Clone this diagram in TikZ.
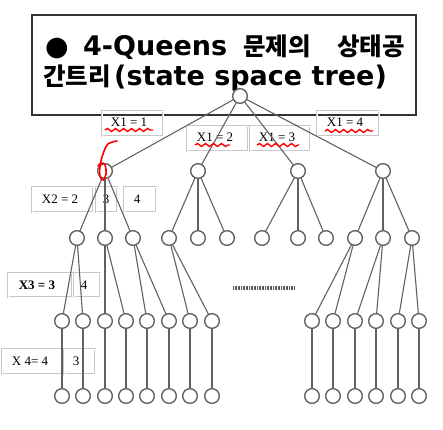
\documentclass[tikz,border=0pt]{standalone}
\usepackage{fontspec}
\setmainfont{Liberation Serif}
\newfontfamily\ttl{DejaVu Sans}
\newfontfamily\kr{Noto Sans CJK KR}
\usetikzlibrary{decorations.pathmorphing}
\begin{document}
\begin{tikzpicture}[x=1pt,y=-1pt,
  st/.style={circle,draw=black!62,fill=white,line width=1.2pt,minimum size=14.5pt,inner sep=0pt},
  ed/.style={draw=black!62,line width=1.1pt},
  cell/.style={draw=black!22,double=white,double distance=0.8pt,line width=0.6pt},
  lab/.style={font=\fontsize{13}{13}\selectfont,inner sep=0pt},
  ttlfont/.style={font=\ttl\bfseries\fontsize{27}{27}\selectfont,anchor=base west,inner sep=0pt},
  krfont/.style={font=\kr\bfseries\fontsize{24.5}{24.5}\selectfont,anchor=base west,inner sep=0pt},
  wave/.style={draw=red,line width=1.4pt,decorate,decoration={snake,amplitude=1.5pt,segment length=8pt}},
]
\useasboundingbox (0,0) rectangle (443,429);

% title box
\draw[black!80,line width=1.8pt] (32,15) rectangle (416,115);
\node[ttlfont] (t1) at (45,55) {●};
\node[ttlfont] (t2) at (83,55) {4-Queens};
\node[krfont] (t3) at (243,55) {문제의};
\node[krfont] (t4) at (337,55) {상태공};
\node[krfont] (t5) at (43,85) {간트리};
\node[ttlfont] (t6) at (114,85) {(state space tree)};

% label cells
\draw[cell] (102,111) rectangle (163,136);
\draw[cell] (187,126) rectangle (248,151);
\draw[cell] (250,126) rectangle (310,151);
\draw[cell] (317,111) rectangle (379,136);
\draw[cell] (32,187) rectangle (93,212);
\draw[cell] (96,187) rectangle (117,212);
\draw[cell] (124,187) rectangle (156,212);
\draw[cell] (8,273) rectangle (72,297);
\draw[cell] (74,273) rectangle (100,297);
\draw[cell] (2,349) rectangle (62,374);
\draw[cell] (64,349) rectangle (95,374);
\node[lab] (l1) at (129,122) {X1 = 1};
\node[lab] (l2) at (215,137) {X1 = 2};
\node[lab] (l3) at (277,137) {X1 = 3};
\node[lab] (l4) at (345,122) {X1 = 4};
\node[lab] (l5) at (60,199) {X2 = 2};
\node[lab] (l6) at (106,199) {3};
\node[lab] (l7) at (137,199) {4};
\node[lab,font=\bfseries\fontsize{13}{13}\selectfont] (l8) at (37,285) {X3 = 3};
\node[lab] (l9) at (84,285) {4};
\node[lab] (l10) at (30,361) {X 4= 4};
\node[lab] (l11) at (76,361) {3};

% nodes
\node[st] (r) at (240,96) {};
\foreach \n/\x in {1/105,2/198,3/298,4/383}
  \node[st] (a\n) at (\x,171) {};
\foreach \n/\x in {1/77,2/105,3/133,4/169,5/198,6/227,7/262,8/298,9/326,10/355,11/383,12/412}
  \node[st] (b\n) at (\x,238) {};
\foreach \n/\x in {1/62,2/83,3/105,4/126,5/147,6/169,7/190,8/212,9/312,10/333,11/355,12/376,13/398,14/419}{
  \node[st] (c\n) at (\x,321) {};
  \node[st] (d\n) at (\x,396) {};
}

% edges
\foreach \n in {1,2,3,4} \draw[ed] (r) -- (a\n);
\foreach \p/\c in {1/1,1/2,1/3,2/4,2/5,2/6,3/7,3/8,3/9,4/10,4/11,4/12} \draw[ed] (a\p) -- (b\c);
\foreach \p/\c in {1/1,1/2,2/3,2/4,3/5,3/6,4/7,4/8,10/9,10/10,11/11,11/12,12/13,12/14} \draw[ed] (b\p) -- (c\c);
\foreach \n in {1,...,14} \draw[ed] (c\n) -- (d\n);

% redraw nodes on top of edges
\node[st] at (r) {};
\foreach \n in {1,...,4} \node[st] at (a\n) {};
\foreach \n in {1,...,12} \node[st] at (b\n) {};
\foreach \n in {1,...,14} {\node[st] at (c\n) {}; \node[st] at (d\n) {};}

% ellipsis bar
\draw[black!65,line width=3.5pt,dash pattern=on 1pt off 0.6pt] (233,288) -- (295,288);

% red marks
\draw[wave] (105,130) -- (153,130);
\draw[wave] (195,145) -- (230,145);
\draw[wave] (257,145) -- (299,145);
\draw[wave] (325,131) -- (373,131);
\draw[red,line width=1.6pt,line cap=round] plot[smooth,tension=0.6] coordinates {(117,141) (108,144) (103,154) (100,166) (100,176) (103,180) (106,174) (105,165) (101,163) (98,166)};
\end{tikzpicture}
\end{document}
